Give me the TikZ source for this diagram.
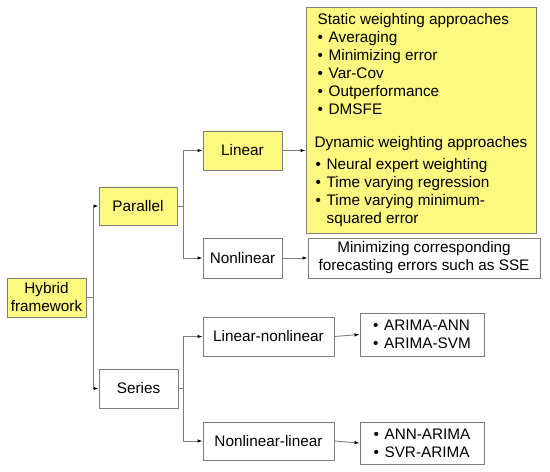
\documentclass[tikz,border=0pt]{standalone}
\usepackage{fontspec}
\setmainfont{Liberation Sans}
\usetikzlibrary{arrows.meta,calc}
\definecolor{hlyellow}{RGB}{252,248,128}
\definecolor{linegray}{RGB}{125,125,125}
\newcommand{\bul}[1]{\makebox[11pt][l]{\textbullet}#1}

\begin{document}
\begin{tikzpicture}[x=1pt, y=-1pt,
    box/.style={draw=linegray, line width=0.9pt, fill=white, align=center, inner sep=2pt,
        font=\fontsize{15.3}{18}\selectfont},
    ybox/.style={box, fill=hlyellow},
    arr/.style={-{Latex[length=5pt,width=3.5pt,color=black]}, draw=linegray, line width=0.9pt}]
    \useasboundingbox (0,0) rectangle (550,472);

    % left part of the tree
    \node[ybox, minimum width=79pt, minimum height=39pt] (hyb) at (46.5,297.5) {Hybrid\\framework};
    \node[ybox, minimum width=78pt, minimum height=38pt] (par) at (138,206) {Parallel};
    \node[box, minimum width=79pt, minimum height=39pt] (ser) at (138.5,388.5) {Series};

    % parallel branch
    \node[ybox, minimum width=79pt, minimum height=39pt] (lin) at (242.5,150.5) {Linear};
    \node[box, minimum width=79pt, minimum height=40pt] (nlin) at (242.5,258) {Nonlinear};
    \node[ybox, minimum width=230pt, minimum height=226pt, align=left] (wts) at (421,120) {%
        \hspace*{3pt}Static weighting approaches\\
        \hspace*{3pt}\bul{Averaging}\\
        \hspace*{3pt}\bul{Minimizing error}\\
        \hspace*{3pt}\bul{Var-Cov}\\
        \hspace*{3pt}\bul{Outperformance}\\
        \hspace*{3pt}\bul{DMSFE}\\[15pt]
        Dynamic weighting approaches\\[4pt]
        \hspace*{1pt}\bul{Neural expert weighting}\\
        \hspace*{1pt}\bul{Time varying regression}\\
        \hspace*{1pt}\bul{Time varying minimum-}\\
        \hspace*{12pt}squared error};
    \node[box, minimum width=232pt, minimum height=40pt] (sse) at (424,258) {Minimizing corresponding\\forecasting errors such as SSE};

    % series branch
    \node[box, minimum width=131pt, minimum height=39pt] (lnl) at (268.5,336.5) {Linear-nonlinear};
    \node[box, minimum width=124pt, minimum height=43pt, align=left] (ex1) at (422,334.5) {\bul{ARIMA-ANN}\\\bul{ARIMA-SVM}};
    \node[box, minimum width=131pt, minimum height=38pt] (nll) at (268.5,441) {Nonlinear-linear};
    \node[box, minimum width=124pt, minimum height=42pt, align=left] (ex2) at (422,443) {\bul{ANN-ARIMA}\\\bul{SVR-ARIMA}};

    % connectors
    \coordinate (hj) at ($(hyb.east)+(7,0)$);
    \draw[arr] (hyb.east) -- (hj) |- (par.west);
    \draw[arr] (hj) |- (ser.west);
    \coordinate (pj) at ($(par.east)+(6,0)$);
    \draw[arr] (par.east) -- (pj) |- (lin.west);
    \draw[arr] (pj) |- (nlin.west);
    \coordinate (sj) at ($(ser.east)+(5,0)$);
    \draw[arr] (ser.east) -- (sj) |- (lnl.west);
    \draw[arr] (sj) |- (nll.west);
    \draw[arr] (lin.east) -- (lin.east -| wts.west);
    \draw[arr] (nlin.east) -- (sse.west);
    \draw[arr] (lnl.east) -- (ex1.west);
    \draw[arr] (nll.east) -- (ex2.west);
\end{tikzpicture}
\end{document}
